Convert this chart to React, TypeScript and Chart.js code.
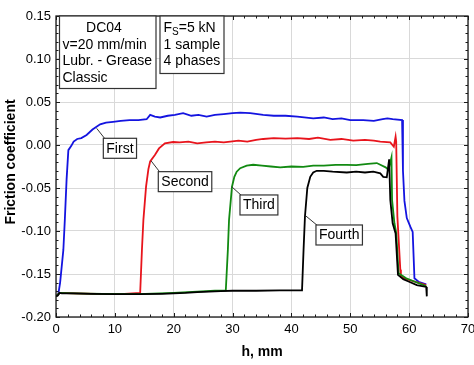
import React, { useEffect, useRef } from "react";
import { Chart, registerables } from "chart.js";

Chart.register(...registerables);

const FONT = "'Liberation Sans', Arial, Helvetica, sans-serif";

// Axis ticks
const xTicks = [0, 10, 20, 30, 40, 50, 60, 70];
const yTicks = [-0.2, -0.15, -0.1, -0.05, 0, 0.05, 0.1, 0.15];

// Series data: [h (mm), friction coefficient]
const firstSeries: [number, number][] = [
  [0, -0.176], [0.4, -0.173], [0.7, -0.16], [1.25, -0.122], [1.5, -0.087], [1.8, -0.04],
  [2.1, -0.006], [2.6, -0.001], [3.0, 0.004], [3.6, 0.007], [4.3, 0.008], [5.2, 0.0116],
  [6.2, 0.018], [7.5, 0.024], [8.5, 0.026], [9.7, 0.027], [11, 0.028], [12.5, 0.029],
  [14, 0.029], [15.4, 0.03], [16, 0.035], [16.8, 0.033], [17.7, 0.032], [19, 0.034],
  [20.2, 0.035], [21.6, 0.037], [23, 0.034], [24.2, 0.035], [25.6, 0.033], [27, 0.035],
  [28.5, 0.036], [30, 0.037], [31.3, 0.0376], [33, 0.037], [35.2, 0.035], [37, 0.034],
  [39, 0.034], [41, 0.033], [43.7, 0.031], [45.5, 0.032], [47, 0.03], [48.5, 0.031],
  [50, 0.029], [52.2, 0.029], [54, 0.028], [55.5, 0.03], [56.3, 0.031], [57.2, 0.03],
  [58.8, 0.029], [58.95, -0.03], [59.2, -0.065], [59.6, -0.085], [60.2, -0.095],
  [60.6, -0.101], [60.9, -0.155], [61.6, -0.159], [62.9, -0.162],
];

const secondSeries: [number, number][] = [
  [0, -0.176], [0.3, -0.174], [0.6, -0.172], [3, -0.1725], [7, -0.173], [11, -0.1735],
  [14.3, -0.172], [14.6, -0.122], [14.85, -0.087], [15.3, -0.0485], [15.7, -0.028],
  [16.0, -0.019], [16.8, -0.0116], [17.5, -0.004], [18.5, 0.002], [19.9, 0.0035],
  [21, 0.003], [22.5, 0.004], [24, 0.002], [25.5, 0.003], [27, 0.004], [28.5, 0.003],
  [29.6, 0.004], [31, 0.005], [32.5, 0.004], [34, 0.006], [35.2, 0.007], [37, 0.008],
  [39, 0.0075], [41, 0.008], [43, 0.007], [44.5, 0.0085], [46.6, 0.006], [48.5, 0.007],
  [50.5, 0.005], [52.5, 0.006], [54, 0.005], [55.1, 0.004], [56.8, 0.003], [57.4, -0.002],
  [57.7, 0.0097], [57.8, 0.004], [58.0, -0.083], [58.5, -0.145], [58.6, -0.153],
  [60, -0.157], [61.5, -0.16], [62.9, -0.163],
];

const thirdSeries: [number, number][] = [
  [0, -0.176], [0.3, -0.174], [0.6, -0.172], [3, -0.1725], [8, -0.173], [14, -0.1735],
  [20, -0.172], [24, -0.1705], [27, -0.1695], [28.85, -0.169], [29.2, -0.122],
  [29.4, -0.087], [29.9, -0.0485], [30.3, -0.037], [30.7, -0.031], [31.3, -0.027],
  [32.4, -0.024], [33.5, -0.023], [35, -0.024], [36.5, -0.025], [38.1, -0.026],
  [40, -0.025], [42, -0.0255], [43.7, -0.024], [45.5, -0.024], [47.5, -0.023],
  [49.4, -0.023], [51, -0.0235], [53, -0.022], [54.5, -0.021], [55.1, -0.023],
  [56.0, -0.026], [56.5, -0.029], [57.0, -0.0143], [57.1, -0.064], [57.5, -0.091],
  [57.8, -0.102], [58.2, -0.149], [59.5, -0.155], [61, -0.159], [62.9, -0.164],
];

const fourthSeries: [number, number][] = [
  [0, -0.176], [0.3, -0.175], [0.6, -0.172], [1, -0.1725], [3, -0.1725], [6, -0.173],
  [10, -0.1735], [14, -0.1735], [18, -0.173], [22, -0.172], [24, -0.171], [26, -0.1705],
  [28, -0.17], [30, -0.1695], [34, -0.1695], [38, -0.169], [41.8, -0.169], [42.06, -0.122],
  [42.3, -0.083], [42.7, -0.05], [43.2, -0.037], [43.7, -0.032], [44.3, -0.03],
  [45.5, -0.03], [47, -0.031], [49.4, -0.032], [51, -0.031], [52.5, -0.032], [53.9, -0.031],
  [55.1, -0.033], [55.6, -0.037], [56.2, -0.0376], [56.6, -0.0167], [56.8, -0.064],
  [57.2, -0.091], [57.7, -0.103], [58.1, -0.151], [59, -0.156], [60, -0.159],
  [61.3, -0.163], [62.9, -0.165], [63.0, -0.176],
];

const seriesNames = ["First", "Second", "Third", "Fourth"];
const seriesColors = ["#1414e0", "#e8141c", "#128a12", "#000000"];
const seriesData = [firstSeries, secondSeries, thirdSeries, fourthSeries];

// Curve labels: anchor point on the curve and box top-left corner (data coordinates)
const curveLabels = [
  { text: "First", ax: 6.91, ay: 0.0194, bx: 8.04, by: 0.0078 },
  { text: "Second", ax: 16.14, ay: -0.0183, bx: 17.38, by: -0.031 },
  { text: "Third", ax: 29.85, ay: -0.0485, bx: 31.26, by: -0.0581 },
  { text: "Fourth", ax: 42.47, ay: -0.0826, bx: 44.17, by: -0.093 },
];

const infoLines1 = ["DC04", "v=20 mm/min", "Lubr. - Grease", "Classic"];
const infoLines2 = ["1 sample", "4 phases"];

const decorPlugin = {
  id: "decor",
  afterDraw(chart: any) {
    const { ctx, chartArea: a, scales } = chart;
    const xs = scales.x;
    const ys = scales.y;
    ctx.save();

    // Frame
    ctx.strokeStyle = "#1a1a1a";
    ctx.lineWidth = 1.3;
    ctx.strokeRect(a.left, a.top, a.right - a.left, a.bottom - a.top);

    // Inward tick marks
    ctx.lineWidth = 1;
    ctx.beginPath();
    for (let i = 0; i <= 35; i++) {
      const v = i * 2;
      const px = Math.round(xs.getPixelForValue(v)) + 0.5;
      const len = v % 10 === 0 ? 4 : 2.5;
      ctx.moveTo(px, a.bottom);
      ctx.lineTo(px, a.bottom - len);
      ctx.moveTo(px, a.top);
      ctx.lineTo(px, a.top + len);
    }
    for (let i = -20; i <= 15; i++) {
      const py = Math.round(ys.getPixelForValue(i / 100)) + 0.5;
      const len = i % 5 === 0 ? 4 : 2.5;
      ctx.moveTo(a.left, py);
      ctx.lineTo(a.left + len, py);
      ctx.moveTo(a.right, py);
      ctx.lineTo(a.right - len, py);
    }
    ctx.stroke();

    // Axis titles
    ctx.fillStyle = "#000";
    ctx.font = `bold 14px ${FONT}`;
    ctx.textAlign = "center";
    ctx.textBaseline = "middle";
    ctx.fillText("h, mm", (a.left + a.right) / 2, 352);
    ctx.save();
    ctx.translate(11, 162);
    ctx.rotate(-Math.PI / 2);
    ctx.fillText("Friction coefficient", 0, 0);
    ctx.restore();

    // Info box 1
    ctx.lineWidth = 1.2;
    ctx.strokeStyle = "#333";
    ctx.fillStyle = "#fff";
    ctx.fillRect(59.5, 16, 96.5, 72.5);
    ctx.strokeRect(59.5, 16, 96.5, 72.5);
    ctx.fillStyle = "#000";
    ctx.font = `14px ${FONT}`;
    ctx.textAlign = "center";
    ctx.fillText(infoLines1[0], 104, 28.5);
    ctx.textAlign = "left";
    ctx.fillText(infoLines1[1], 62.5, 45);
    ctx.fillText(infoLines1[2], 62.5, 61.5);
    ctx.fillText(infoLines1[3], 62.5, 78);

    // Info box 2
    ctx.fillStyle = "#fff";
    ctx.fillRect(160, 16, 64, 57.5);
    ctx.strokeRect(160, 16, 64, 57.5);
    ctx.fillStyle = "#000";
    ctx.font = `14px ${FONT}`;
    let tx = 163.5;
    ctx.fillText("F", tx, 28.5);
    tx += ctx.measureText("F").width;
    ctx.font = `10px ${FONT}`;
    ctx.fillText("S", tx, 32);
    tx += ctx.measureText("S").width;
    ctx.font = `14px ${FONT}`;
    ctx.fillText("=5 kN", tx, 28.5);
    ctx.fillText(infoLines2[0], 163.5, 45);
    ctx.fillText(infoLines2[1], 163.5, 61.5);

    // Curve labels
    ctx.font = `14px ${FONT}`;
    for (const lb of curveLabels) {
      const ax = xs.getPixelForValue(lb.ax);
      const ay = ys.getPixelForValue(lb.ay);
      const bx = xs.getPixelForValue(lb.bx);
      const by = ys.getPixelForValue(lb.by);
      const w = ctx.measureText(lb.text).width + 6;
      const h = 20;
      ctx.strokeStyle = "#333";
      ctx.lineWidth = 1;
      ctx.beginPath();
      ctx.moveTo(ax, ay);
      ctx.lineTo(bx + 2, by + 1);
      ctx.stroke();
      ctx.fillStyle = "#fff";
      ctx.fillRect(bx, by, w, h);
      ctx.lineWidth = 1.2;
      ctx.strokeRect(bx, by, w, h);
      ctx.fillStyle = "#000";
      ctx.textAlign = "left";
      ctx.fillText(lb.text, bx + 3, by + h / 2 + 0.5);
    }
    ctx.restore();
  },
};

export default function App() {
  const canvasRef = useRef<HTMLCanvasElement | null>(null);

  useEffect(() => {
    if (!canvasRef.current) return;
    const datasets = seriesData
      .map((pts, i) => ({
        label: seriesNames[i],
        data: pts.map(([x, y]) => ({ x, y })),
        borderColor: seriesColors[i],
        backgroundColor: seriesColors[i],
        borderWidth: 1.8,
        pointRadius: 0,
        tension: 0,
        fill: false,
        showLine: true,
      }))
      .reverse();

    const chart = new Chart(canvasRef.current, {
      type: "scatter",
      data: { datasets },
      options: {
        animation: false,
        responsive: false,
        devicePixelRatio: 1,
        layout: { padding: { top: 16, right: 6, left: 0, bottom: 0 } },
        plugins: {
          legend: { display: false },
          tooltip: { enabled: false },
        },
        scales: {
          x: {
            type: "linear",
            min: 0,
            max: 70,
            afterBuildTicks: (s: any) => {
              s.ticks = xTicks.map((v) => ({ value: v }));
            },
            afterFit: (s: any) => {
              s.height = 48;
              s.paddingLeft = 0;
              s.paddingRight = 0;
            },
            ticks: {
              color: "#000",
              font: { family: FONT, size: 13 },
              padding: 5,
              maxRotation: 0,
              autoSkip: false,
              callback: (v: any) => String(v),
            },
            grid: { color: "#d9d9d9", drawTicks: false, lineWidth: 1 },
            border: { display: false },
          },
          y: {
            type: "linear",
            min: -0.2,
            max: 0.15,
            afterBuildTicks: (s: any) => {
              s.ticks = yTicks.map((v) => ({ value: v }));
            },
            afterFit: (s: any) => {
              s.width = 56;
              s.paddingTop = 0;
              s.paddingBottom = 0;
            },
            ticks: {
              color: "#000",
              font: { family: FONT, size: 13 },
              padding: 5,
              autoSkip: false,
              callback: (v: any) => Number(v).toFixed(2),
            },
            grid: { color: "#d9d9d9", drawTicks: false, lineWidth: 1 },
            border: { display: false },
          },
        },
      },
      plugins: [decorPlugin],
    } as any);

    return () => chart.destroy();
  }, []);

  return (
    <div style={{ position: "absolute", left: 0, top: 0, width: 474, height: 365, background: "#fff" }}>
      <canvas ref={canvasRef} width={474} height={365} style={{ width: 474, height: 365 }} />
    </div>
  );
}
